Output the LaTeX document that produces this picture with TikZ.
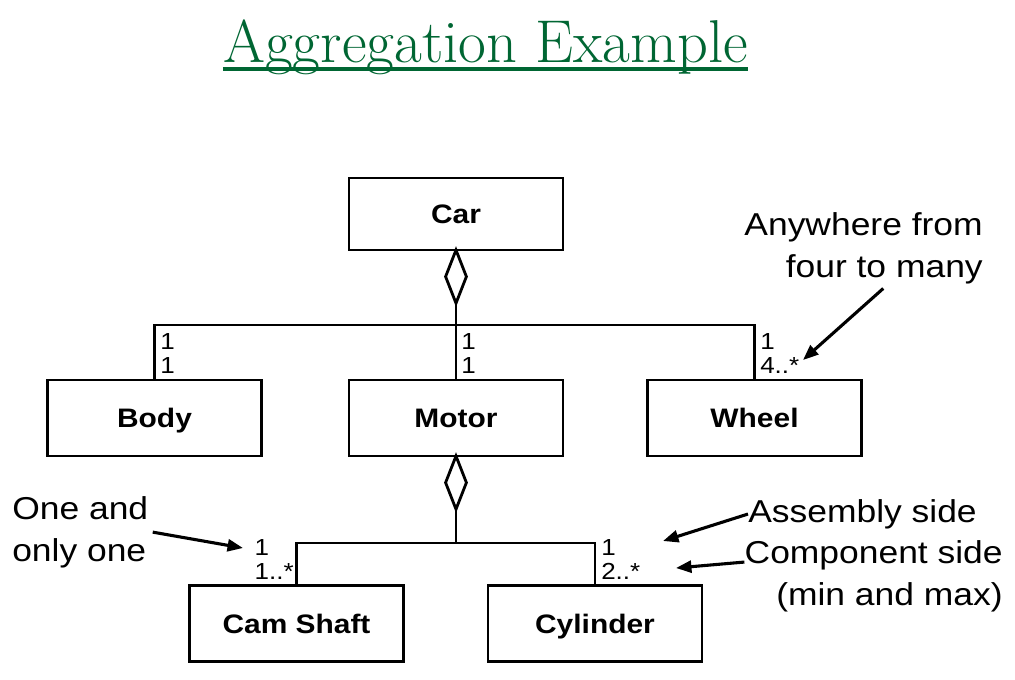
\documentclass[tikz,border=0pt]{standalone}
\usepackage{fontspec}
\newfontfamily\slidefont[FakeStretch=1.12]{Liberation Sans}
\usetikzlibrary{shapes.geometric, arrows.meta}
\definecolor{titlegreen}{RGB}{0,102,51}

\begin{document}
\begin{tikzpicture}[x=0.025cm, y=-0.025cm,
  classbox/.style={draw, line width=2pt, outer sep=0pt, minimum width=5.35cm, minimum height=1.9cm, text height=13.5pt, text depth=0pt, font=\slidefont\bfseries\fontsize{19}{22}\selectfont},
  aggdiamond/.style={draw, diamond, line width=2pt, outer sep=0pt, inner sep=0pt, minimum width=0.52cm, minimum height=1.33cm, fill=white},
  link/.style={line width=2pt},
  mult/.style={inner sep=0pt, align=left, font=\slidefont\fontsize{16.5}{17.5}\selectfont},
  note/.style={inner sep=0pt, font=\slidefont\fontsize{22.5}{30}\selectfont},
  pointer/.style={->, >={Triangle[length=11pt, width=8.5pt]}, line width=2.2pt}
]

\useasboundingbox ( 0, 0 ) rectangle ( 1015, 679 );

% Title
\node (title) at ( 485.5, 62 ) [anchor=base, inner sep=0pt, text=titlegreen, font=\fontsize{43}{44}\selectfont] {Aggregation Example};
\draw [titlegreen, line width=2.2pt] ([yshift=-5pt]title.base west) -- ([yshift=-5pt]title.base east);

% Classes
\node (car) at ( 456, 214 ) [classbox, minimum height=1.8cm] {Car};
\node (body) at ( 154.5, 418 ) [classbox] {Body};
\node (motor) at ( 456, 418 ) [classbox] {Motor};
\node (wheel) at ( 754.5, 418 ) [classbox] {Wheel};
\node (camshaft) at ( 296.5, 623.5 ) [classbox] {Cam Shaft};
\node (cylinder) at ( 595, 623.5 ) [classbox] {Cylinder};

% Car aggregation
\node (cardiamond) at (car.south) [aggdiamond, anchor=north] {};
\coordinate (carbus) at ( 456, 325 );
\draw [link] (cardiamond.south) -- (motor.north);
\draw [link] (body.north) |- (carbus) -| (wheel.north);

% Motor aggregation
\node (motordiamond) at (motor.south) [aggdiamond, anchor=north] {};
\coordinate (motorbus) at ( 456, 543 );
\draw [link] (motordiamond.south) -- (motorbus);
\draw [link] (camshaft.north) |- (motorbus) -| (cylinder.north);

% Multiplicities
\node (bodymult) at ( 160, 333 ) [mult, anchor=north west] {1\\1};
\node (motormult) at ( 461, 333 ) [mult, anchor=north west] {1\\1};
\node (wheelmult) at ( 760, 333 ) [mult, anchor=north west] {1\\4..*};
\node (cammult) at ( 294, 539 ) [mult, anchor=north east] {1\\1..*};
\node (cylmult) at ( 601, 539 ) [mult, anchor=north west] {1\\2..*};

% Notes
\node (manynote) at ( 983, 212 ) [note, anchor=north east, align=right] {Anywhere from\\four to many};
\node (onenote) at ( 12, 496 ) [note, anchor=north west, align=left] {One and\\only one};
\node (assemblynote) at ( 748, 499 ) [note, anchor=north west] {Assembly side};
\node (componentnote) at ( 1003, 540 ) [note, anchor=north east, align=right] {Component side\\(min and max)};

% Pointers
\coordinate (manytip) at ( 803, 360 );
\coordinate (onetip) at ( 243, 548 );
\coordinate (assemblytip) at ( 663, 541 );
\coordinate (componenttip) at ( 676, 568 );
\draw [pointer] ([xshift=14pt, yshift=-3pt]manynote.south) -- (manytip);
\draw [pointer] ([xshift=3pt]onenote.east) -- (onetip);
\draw [pointer] (assemblynote.west) -- (assemblytip);
\draw [pointer] ([yshift=10pt]componentnote.west) -- (componenttip);

\end{tikzpicture}
\end{document}
